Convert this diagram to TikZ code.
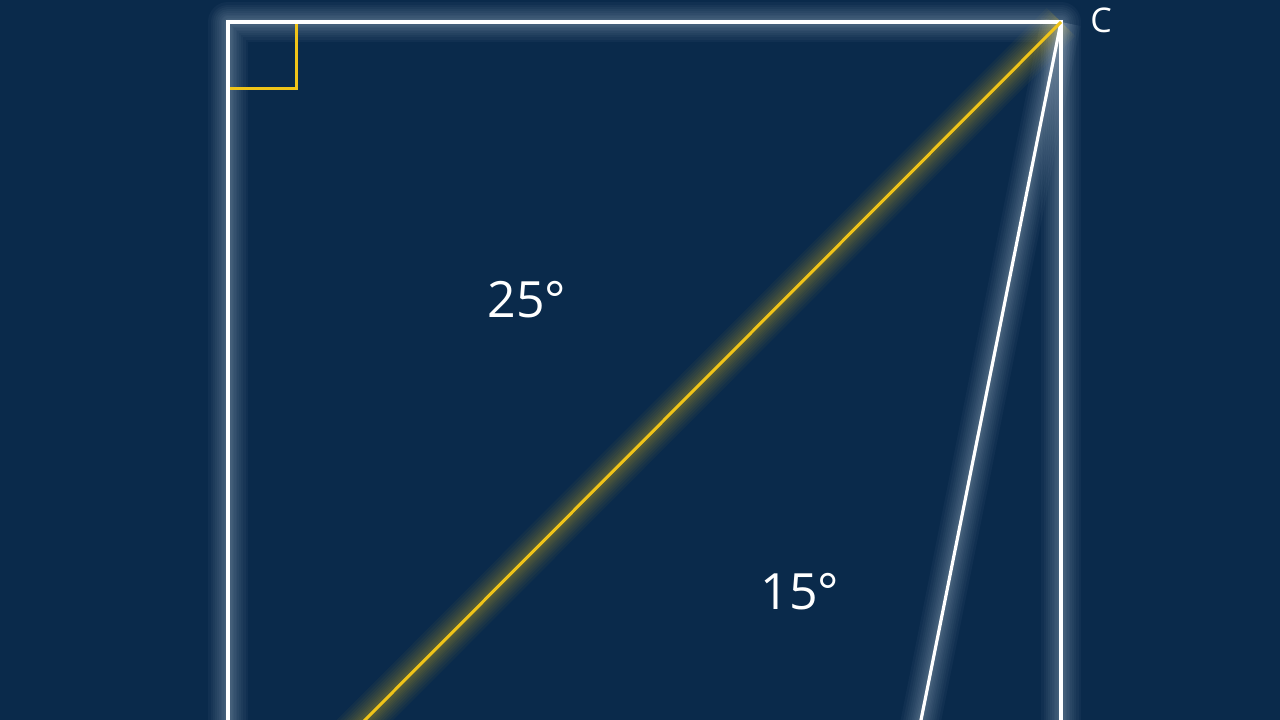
\documentclass[tikz,border=0pt]{standalone}
\usepackage{fontspec}
\setmainfont{Open Sans}
\definecolor{bgnavy}{HTML}{0A2A4B}
\definecolor{glowyel}{HTML}{F2C81E}
\definecolor{lineyel}{HTML}{F0C419}
\definecolor{glowwhite}{HTML}{D8E6F5}
\begin{document}
\begin{tikzpicture}[x=1pt,y=-1pt,
  wline/.style={draw=white,line width=3.2pt},
  yline/.style={draw=lineyel,line width=3pt},
  wglow/.style={draw=glowwhite,line width=#1,opacity=0.035},
  yglow/.style={draw=glowyel,line width=#1,opacity=0.04},
  lbl/.style={text=white,inner sep=0pt,font=\fontsize{50}{50}\selectfont},
  clbl/.style={text=white,inner sep=0pt,font=\fontsize{34}{34}\selectfont}]
\fill[bgnavy] (0,0) rectangle (1280,720);
\useasboundingbox (0,0) rectangle (1280,720);
\coordinate (TL) at (228,22);
\coordinate (C) at (1061,22);
\coordinate (BL) at (228,740);
\coordinate (BR) at (1061,740);
\coordinate (Y) at (345,740);
\coordinate (W) at (917,740);
\coordinate (M1) at (230,88);
\coordinate (M2) at (296,88);
\coordinate (M3) at (296,24);
% glow
\foreach \w in {40,35,30,26,22,18,15,12,9,7} {
  \draw[wglow=\w pt,line join=round] (BL) -- (TL) -- (C) -- (BR);
  \draw[wglow=\w pt] (C) -- (W);
  \draw[yglow=\w pt] (C) -- (Y);
}
\draw[wline,line join=miter] (BL) -- (TL) -- (C) -- (BR);
\draw[wline] (C) -- (W);
\draw[yline] (C) -- (Y);
\draw[yline,line join=miter] (M1) -- (M2) -- (M3);
\node[clbl] (lc) at (1101,20) {C};
\node[lbl] (a25) at (527,300) {25°};
\node[lbl] (a15) at (800,592) {15°};
\end{tikzpicture}
\end{document}
